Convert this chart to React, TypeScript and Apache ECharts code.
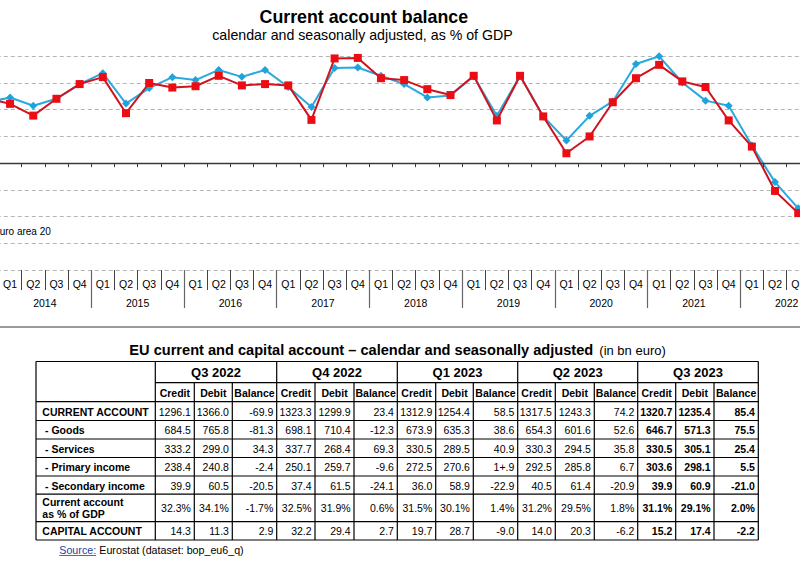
import React, { useEffect, useRef } from "react";
import * as echarts from "echarts";

const FONT = "'Liberation Sans', Arial, Helvetica, sans-serif";

// ---------- line chart data ----------
const chartTitle = "Current account balance";
const chartSubtitle = "calendar and seasonally adjusted, as % of GDP";
const years = [2013, 2014, 2015, 2016, 2017, 2018, 2019, 2020, 2021, 2022];
const quarters = ["Q1", "Q2", "Q3", "Q4"];
const quartersShownInLastYear = 3;
const firstLabelledIndex = 4; // labels start at 2014 Q1

const euName = "EU";
const eaName = "Euro area 20";

// % of GDP, 2013 Q1 ... 2022 Q3
const euBalance = [
  null, null, null, 2.27,
  2.46, 2.15, 2.41, 2.96,
  3.37, 2.23, 2.81, 3.22,
  3.11, 3.49, 3.23, 3.49,
  2.85, 2.1, 3.56, 3.58,
  3.27, 2.96, 2.46, 2.53,
  3.25, 1.77, 3.27, 1.75,
  0.85, 1.77, 2.31, 3.71,
  4.0, 3.02, 2.34, 2.15,
  0.66, -0.71, -1.69,
];
const eaBalance = [
  null, null, null, 2.42,
  2.22, 1.78, 2.41, 2.96,
  3.22, 1.87, 3.0, 2.83,
  2.88, 3.27, 2.91, 2.96,
  2.91, 1.62, 3.92, 3.94,
  3.18, 3.11, 2.77, 2.55,
  3.27, 1.6, 3.27, 1.75,
  0.37, 1.0, 2.28, 3.18,
  3.68, 3.06, 2.85, 1.6,
  0.62, -1.04, -1.87,
];
const yTicks = [-4, -3, -2, -1, 0, 1, 2, 3, 4];

// ---------- table data ----------
const tableTitle = "EU current and capital account \u2013 calendar and seasonally adjusted";
const tableUnit = "(in bn euro)";
const periods = ["Q3 2022", "Q4 2022", "Q1 2023", "Q2 2023", "Q3 2023"];
const measures = ["Credit", "Debit", "Balance"];
const rowLabels = [
  ["CURRENT ACCOUNT"],
  ["- Goods"],
  ["- Services"],
  ["- Primary income"],
  ["- Secondary income"],
  ["Current account", "as % of GDP"],
  ["CAPITAL ACCOUNT"],
];
const currentAccountRow = ["1296.1", "1366.0", "-69.9", "1323.3", "1299.9", "23.4", "1312.9", "1254.4", "58.5", "1317.5", "1243.3", "74.2", "1320.7", "1235.4", "85.4"];
const goodsRow = ["684.5", "765.8", "-81.3", "698.1", "710.4", "-12.3", "673.9", "635.3", "38.6", "654.3", "601.6", "52.6", "646.7", "571.3", "75.5"];
const servicesRow = ["333.2", "299.0", "34.3", "337.7", "268.4", "69.3", "330.5", "289.5", "40.9", "330.3", "294.5", "35.8", "330.5", "305.1", "25.4"];
const primaryIncomeRow = ["238.4", "240.8", "-2.4", "250.1", "259.7", "-9.6", "272.5", "270.6", "1+.9", "292.5", "285.8", "6.7", "303.6", "298.1", "5.5"];
const secondaryIncomeRow = ["39.9", "60.5", "-20.5", "37.4", "61.5", "-24.1", "36.0", "58.9", "-22.9", "40.5", "61.4", "-20.9", "39.9", "60.9", "-21.0"];
const gdpShareRow = ["32.3%", "34.1%", "-1.7%", "32.5%", "31.9%", "0.6%", "31.5%", "30.1%", "1.4%", "31.2%", "29.5%", "1.8%", "31.1%", "29.1%", "2.0%"];
const capitalAccountRow = ["14.3", "11.3", "2.9", "32.2", "29.4", "2.7", "19.7", "28.7", "-9.0", "14.0", "20.3", "-6.2", "15.2", "17.4", "-2.2"];
const tableRows = [currentAccountRow, goodsRow, servicesRow, primaryIncomeRow, secondaryIncomeRow, gdpShareRow, capitalAccountRow];
const sourceLabel = "Source:";
const sourceText = "Eurostat (dataset: bop_eu6_q)";

// ---------- layout (not data) ----------
const BAND = 23.18;
const GRID_LEFT = -1.5 - 4 * BAND;
const colEdges = [36, 155.3, 194.3, 232.3, 276.7, 315, 354, 397.3, 435.7, 473.3, 517.7, 555.3, 594.3, 637.7, 675.7, 714, 758.3];
const rowEdges = [361.5, 382.7, 401.7, 420.5, 439, 457.5, 476, 494.2, 521.6, 540];
const indented = [false, true, true, true, true, false, false];

function buildCategories() {
  const cats: string[] = [];
  years.forEach((y, yi) => {
    const n = yi === years.length - 1 ? quartersShownInLastYear : quarters.length;
    for (let q = 0; q < n; q++) cats.push(quarters[q] + " " + y);
  });
  return cats;
}

function txt(text: string, x: number, y: number, size: number, weight: string, align: string, fill = "#000") {
  return {
    type: "text",
    x,
    y,
    silent: true,
    style: {
      text,
      fill,
      fontSize: size,
      fontWeight: weight,
      fontFamily: FONT,
      align,
      verticalAlign: "middle",
      textAlign: align,
      textVerticalAlign: "middle",
    },
  };
}

function ln(x1: number, y1: number, x2: number, y2: number, stroke = "#000", w = 1.2) {
  return { type: "line", silent: true, shape: { x1, y1, x2, y2 }, style: { stroke, lineWidth: w } };
}

function buildGraphics() {
  const g: any[] = [];
  g.push(txt(chartTitle, 363.8, 16.7, 17.8, "bold", "center"));
  g.push(txt(chartSubtitle, 362.5, 35, 14.2, "normal", "center"));
  g.push(txt(eaName, -7, 231, 10, "normal", "left"));
  g.push(ln(0, 327, 800, 327, "#9a9a9a", 2));

  // table title
  g.push(txt(tableTitle, 129.3, 349.5, 14.6, "bold", "left"));
  g.push(txt(tableUnit, 599.3, 350, 13, "normal", "left"));

  const top = rowEdges[0];
  const bottom = rowEdges[rowEdges.length - 1];
  const left = colEdges[0];
  const right = colEdges[colEdges.length - 1];
  rowEdges.forEach((y, i) => {
    if (i === 1) g.push(ln(colEdges[1], y, right, y));
    else g.push(ln(left, y, right, y));
  });
  colEdges.forEach((x, i) => {
    const full = i <= 1 || (i - 1) % 3 === 0;
    g.push(ln(x, full ? top : rowEdges[1], x, bottom));
  });

  periods.forEach((p, gi) => {
    const x1 = colEdges[1 + gi * 3];
    const x2 = colEdges[4 + gi * 3];
    g.push(txt(p, (x1 + x2) / 2, (rowEdges[0] + rowEdges[1]) / 2 + 0.5, 13, "bold", "center"));
    measures.forEach((m, mi) => {
      const c = 1 + gi * 3 + mi;
      g.push(txt(m, (colEdges[c] + colEdges[c + 1]) / 2, (rowEdges[1] + rowEdges[2]) / 2 + 0.5, 10.5, "bold", "center"));
    });
  });

  tableRows.forEach((vals, ri) => {
    const yc = (rowEdges[ri + 2] + rowEdges[ri + 3]) / 2 + 0.5;
    const lab = rowLabels[ri];
    const lx = indented[ri] ? 45 : 42.3;
    if (lab.length === 1) g.push(txt(lab[0], lx, yc, 10.5, "bold", "left"));
    else {
      g.push(txt(lab[0], lx, yc - 6.6, 10.5, "bold", "left"));
      g.push(txt(lab[1], lx, yc + 6.0, 10.5, "bold", "left"));
    }
    vals.forEach((v, ci) => {
      const bold = ci >= 12;
      g.push(txt(v, colEdges[ci + 2] - 3.4, yc, 10.5, bold ? "bold" : "normal", "right"));
    });
  });

  g.push(txt(sourceLabel, 59.3, 549.5, 10.7, "normal", "left", "#24449a"));
  g.push(ln(59.3, 555.5, 96, 555.5, "#24449a", 0.8));
  g.push(txt(sourceText, 99.3, 549.5, 10.7, "normal", "left"));
  return g;
}

export default function App() {
  const ref = useRef<HTMLDivElement>(null);
  useEffect(() => {
    if (!ref.current) return;
    const chart = echarts.init(ref.current, undefined, { renderer: "svg" });
    const categories = buildCategories();
    const option: any = {
      animation: false,
      backgroundColor: "#fff",
      textStyle: { fontFamily: FONT },
      grid: {
        left: GRID_LEFT,
        right: 800 - (GRID_LEFT + BAND * categories.length),
        top: 56.3,
        bottom: 311,
        containLabel: false,
        outerBoundsMode: "none",
      },
      xAxis: [
        {
          type: "category",
          data: categories,
          boundaryGap: true,
          axisLine: { show: true, onZero: true, lineStyle: { color: "#3a3a3a", width: 1.4 } },
          axisTick: { show: true, inside: false, length: 4, interval: 0, lineStyle: { color: "#3a3a3a", width: 1 } },
          axisLabel: { show: false },
          splitLine: { show: false },
          z: 5,
        },
        {
          type: "category",
          data: categories,
          position: "bottom",
          boundaryGap: true,
          axisLine: { show: false, onZero: false },
          axisTick: { show: true, inside: false, length: 20, interval: 0, lineStyle: { color: "#444", width: 1 } },
          axisLabel: {
            show: true,
            interval: (idx: number) => idx >= firstLabelledIndex,
            margin: 8,
            color: "#000",
            fontSize: 10.5,
            fontFamily: FONT,
            formatter: (v: string) => v.split(" ")[0],
          },
          splitLine: { show: false },
        },
        {
          type: "category",
          data: categories,
          position: "bottom",
          boundaryGap: true,
          axisLine: { show: false, onZero: false },
          axisTick: {
            show: true,
            inside: false,
            length: 38,
            interval: (idx: number) => idx % 4 === 0,
            lineStyle: { color: "#666", width: 1.2 },
          },
          axisLabel: {
            show: true,
            interval: (idx: number) => idx % 4 === 1 && idx >= firstLabelledIndex,
            margin: 27,
            color: "#000",
            fontSize: 10.5,
            fontFamily: FONT,
            padding: [0, 0, 0, BAND],
            formatter: (v: string) => v.split(" ")[1],
          },
          splitLine: { show: false },
        },
      ],
      yAxis: {
        type: "value",
        min: yTicks[0],
        max: yTicks[yTicks.length - 1],
        interval: 1,
        axisLine: { show: false },
        axisTick: { show: false },
        axisLabel: { show: false },
        splitLine: { show: true, lineStyle: { color: "#b5b5b5", width: 1, type: [4, 3] } },
      },
      series: [
        {
          name: euName,
          type: "line",
          xAxisIndex: 0,
          data: euBalance,
          symbol: "diamond",
          symbolSize: 8,
          showAllSymbol: true,
          itemStyle: { color: "#1ea3dc" },
          lineStyle: { color: "#2aa9dd", width: 2 },
          z: 3,
        },
        {
          name: eaName,
          type: "line",
          xAxisIndex: 0,
          data: eaBalance,
          symbol: "rect",
          symbolSize: 8,
          showAllSymbol: true,
          itemStyle: { color: "#ec0c14" },
          lineStyle: { color: "#cf141d", width: 2 },
          z: 4,
        },
      ],
      graphic: { elements: buildGraphics() },
    };
    chart.setOption(option);
    return () => chart.dispose();
  }, []);
  return <div ref={ref} style={{ position: "absolute", left: 0, top: 0, width: 800, height: 581 }} />;
}
